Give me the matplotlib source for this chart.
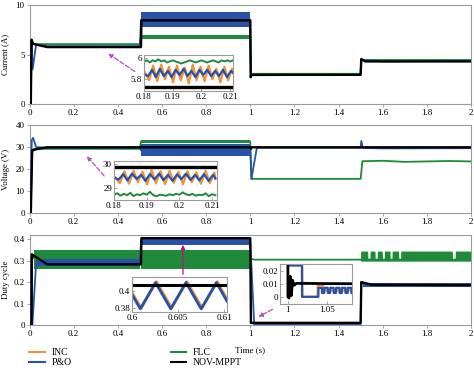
import matplotlib
matplotlib.use("Agg")
import matplotlib.pyplot as plt
from matplotlib.lines import Line2D
from matplotlib.patches import FancyArrowPatch

plt.rcParams["font.family"] = ["Liberation Serif", "DejaVu Serif"]

# ---- data ----
TIME_TICKS = [0, 0.2, 0.4, 0.6, 0.8, 1.0, 1.2, 1.4, 1.6, 1.8, 2.0]
TIME_LABELS = ["0", "0.2", "0.4", "0.6", "0.8", "1", "1.2", "1.4", "1.6", "1.8", "2"]
SERIES = ["INC", "P&O", "FLC", "NOV-MPPT"]

# current (A)
CUR_NOV_T = [0, 0.006, 0.009, 0.015, 0.03, 0.08, 0.505, 0.507, 1.0, 1.002, 1.005, 1.5, 1.503, 1.52, 2.0]
CUR_NOV = [0, 0, 6.5, 6.1, 6.0, 5.75, 5.75, 8.45, 8.45, 2.7, 2.95, 2.95, 4.55, 4.3, 4.3]
CUR_PO_T = [0, 0.006, 0.009, 0.014, 0.03, 0.08, 0.5, 0.505, 1.0, 1.003, 1.5, 1.503, 1.6, 2.0]
CUR_PO = [0, 0, 6.4, 3.5, 6.0, 5.85, 5.85, 8.5, 8.5, 2.9, 2.95, 4.45, 4.3, 4.35]
CUR_PO_BAND = ([0.505], [1.0], [7.8], [9.3])
CUR_FLC_T = [0, 0.006, 0.009, 0.02, 0.5, 0.505, 1.0, 1.003, 1.5, 1.503, 2.0]
CUR_FLC = [0, 0, 6.4, 6.05, 6.05, 6.75, 6.75, 3.05, 3.05, 4.45, 4.45]
CUR_FLC_BAND = ([0.505], [1.0], [6.55], [6.95])

# voltage (V)
VOL_NOV_T = [0, 0.006, 0.012, 0.03, 0.08, 1.0, 1.003, 1.008, 2.0]
VOL_NOV = [0, 0, 28.5, 29.0, 29.9, 29.9, 29.2, 29.9, 29.9]
VOL_PO_T = [0, 0.006, 0.01, 0.016, 0.03, 0.08, 0.5, 0.505, 1.0, 1.005, 1.03, 1.5, 1.503, 1.51, 1.6, 2.0]
VOL_PO = [0, 0, 33.0, 34.2, 30.0, 29.7, 29.7, 28.5, 28.5, 15.5, 29.7, 29.7, 32.8, 29.6, 29.4, 29.5]
VOL_PO_BAND = ([0.505], [1.0], [25.9], [31.3])
VOL_FLC_T = [0, 0.006, 0.01, 0.02, 0.5, 0.505, 1.0, 1.006, 1.5, 1.508, 1.6, 1.7, 1.8, 1.9, 2.0]
VOL_FLC = [0, 0, 27.0, 29.2, 29.2, 32.5, 32.5, 15.6, 15.6, 23.6, 23.8, 23.3, 23.5, 23.7, 23.5]
VOL_FLC_BAND = ([0.505], [1.0], [31.8], [33.2])

# duty cycle
DUT_NOV_T = [0, 0.009, 0.01, 0.08, 0.505, 0.507, 1.0, 1.003, 1.5, 1.503, 1.55, 2.0]
DUT_NOV = [0, 0, 0.33, 0.283, 0.283, 0.405, 0.405, 0.01, 0.01, 0.2, 0.188, 0.186]
DUT_PO_T = [0, 0.008, 0.01, 0.013, 0.03, 0.5, 0.505, 1.0, 1.018, 1.04, 1.5, 1.503, 1.55, 2.0]
DUT_PO = [0, 0, 0.32, 0.0, 0.29, 0.29, 0.39, 0.39, 0.0, 0.004, 0.004, 0.2, 0.185, 0.185]
DUT_PO_BAND = ([0.03, 0.505, 1.04, 1.51], [0.5, 1.0, 1.5, 2.0],
               [0.275, 0.375, 0.0, 0.176], [0.31, 0.41, 0.008, 0.195])
DUT_FLC_T = [0, 0.008, 0.012, 0.02, 1.0, 1.02, 1.5, 2.0]
DUT_FLC = [0, 0, 0.33, 0.31, 0.31, 0.305, 0.305, 0.305]
DUT_FLC_BAND = ([0.02, 0.505], [0.5, 1.0], [0.26, 0.262], [0.35, 0.35])
DUT_FLC_TOP_T = [1.5, 1.532, 1.533, 1.542, 1.543, 1.565, 1.566, 1.575, 1.576, 1.598, 1.599, 1.607, 1.608,
                 1.633, 1.634, 1.642, 1.643, 1.672, 1.673, 1.681, 1.682, 1.915, 1.916, 1.928, 1.929, 2.0]
DUT_FLC_TOP = [0.345, 0.345, 0.31, 0.31, 0.345, 0.345, 0.31, 0.31, 0.345, 0.345, 0.31, 0.31, 0.345,
               0.345, 0.31, 0.31, 0.345, 0.345, 0.31, 0.31, 0.345, 0.345, 0.31, 0.31, 0.345, 0.345]
DUT_FLC_BOTTOM = 0.298

# zoom windows 0.18-0.21 s (current and voltage)
OSC_PO_T = [0.1800, 0.1814, 0.1828, 0.1841, 0.1855, 0.1869, 0.1883, 0.1896, 0.1910, 0.1924, 0.1938, 0.1951,
            0.1965, 0.1979, 0.1993, 0.2006, 0.2020, 0.2034, 0.2048, 0.2061, 0.2075, 0.2089, 0.2103, 0.2110]
OSC_INC_T = [0.1800, 0.1818, 0.1832, 0.1846, 0.1860, 0.1873, 0.1887, 0.1901, 0.1915, 0.1928, 0.1942, 0.1956,
             0.1970, 0.1983, 0.1997, 0.2011, 0.2025, 0.2038, 0.2052, 0.2066, 0.2080, 0.2093, 0.2107, 0.2110]
NOISE_T = [0.180, 0.181, 0.182, 0.183, 0.184, 0.185, 0.186, 0.187, 0.188, 0.189, 0.190, 0.191, 0.192, 0.193,
           0.194, 0.195, 0.196, 0.197, 0.198, 0.199, 0.200, 0.201, 0.202, 0.203, 0.204, 0.205, 0.206, 0.207,
           0.208, 0.209, 0.210, 0.211]
INS1_PO = [5.85, 5.83, 5.89, 5.82, 5.90, 5.83, 5.88, 5.82, 5.89, 5.84, 5.90, 5.83, 5.88, 5.82, 5.89, 5.84,
           5.89, 5.83, 5.88, 5.83, 5.89, 5.82, 5.88, 5.86]
INS1_INC = [5.88, 5.79, 5.93, 5.78, 5.94, 5.80, 5.92, 5.77, 5.93, 5.79, 5.91, 5.76, 5.94, 5.79, 5.92, 5.78,
            5.93, 5.80, 5.90, 5.77, 5.92, 5.79, 5.90, 5.86]
INS1_FLC = [5.97, 5.98, 5.96, 5.98, 5.97, 5.99, 5.97, 5.98, 5.96, 5.97, 5.98, 5.97, 5.96, 5.95, 5.96, 5.97,
            5.98, 5.97, 5.96, 5.97, 5.98, 5.97, 5.96, 5.97, 5.98, 5.97, 5.96, 5.98, 5.97, 5.98, 5.97, 5.98]
INS1_NOV = 5.73
INS2_PO = [29.45, 29.35, 29.58, 29.32, 29.60, 29.38, 29.55, 29.30, 29.58, 29.36, 29.60, 29.33, 29.55, 29.30,
           29.57, 29.37, 29.60, 29.34, 29.55, 29.32, 29.58, 29.30, 29.55, 29.40]
INS2_INC = [29.50, 29.20, 29.70, 29.18, 29.72, 29.25, 29.68, 29.15, 29.75, 29.20, 29.70, 29.17, 29.72, 29.22,
            29.68, 29.16, 29.70, 29.24, 29.66, 29.18, 29.72, 29.20, 29.65, 29.40]
INS2_FLC = [28.72, 28.78, 28.68, 28.76, 28.70, 28.80, 28.66, 28.74, 28.70, 28.78, 28.72, 28.84, 28.70, 28.66,
            28.72, 28.70, 28.68, 28.74, 28.70, 28.76, 28.72, 28.82, 28.74, 28.70, 28.76, 28.68, 28.72, 28.70,
            28.78, 28.66, 28.74, 28.70]
INS2_NOV = 29.86

# zoom window 0.600-0.610 s (duty)
INS3_PO_T = [0.6, 0.6009, 0.60255, 0.6042, 0.60585, 0.6075, 0.60915, 0.6103]
INS3_PO = [0.396, 0.379, 0.410, 0.379, 0.410, 0.379, 0.410, 0.388]
INS3_INC_T = [0.6, 0.6010, 0.60265, 0.6043, 0.60595, 0.6076, 0.60925, 0.6103]
INS3_INC = [0.398, 0.380, 0.411, 0.380, 0.411, 0.380, 0.411, 0.390]
INS3_NOV = 0.407

# zoom window 0.99-1.08 s (duty)
INS4_NOV_T = [0.99, 0.9999, 1.0001, 1.0015, 1.003, 1.0045, 1.006, 1.008, 1.011, 1.082]
INS4_NOV = [0.405, 0.405, 0.0, -0.001, 0.016, 0.001, 0.013, 0.009, 0.0105, 0.0102]
INS4_PO_T = [0.99, 1.0, 1.0005, 1.018, 1.0182, 1.039, 1.0392, 1.0435, 1.0437, 1.0465, 1.0467, 1.051, 1.0512,
             1.054, 1.0542, 1.0585, 1.0587, 1.0615, 1.0617, 1.066, 1.0662, 1.069, 1.0692, 1.0735, 1.0737,
             1.0765, 1.0767, 1.081, 1.0812, 1.082]
INS4_PO = [0.39, 0.39, 0.0245, 0.0245, 0.0, 0.0, 0.007, 0.007, 0.003, 0.003, 0.007, 0.007, 0.003, 0.003,
           0.007, 0.007, 0.003, 0.003, 0.007, 0.007, 0.003, 0.003, 0.007, 0.007, 0.003, 0.003, 0.007, 0.007,
           0.003, 0.003]
INS4_INC_T = [0.99, 1.0, 1.0005, 1.0185, 1.0187, 1.038, 1.0383, 1.045, 1.0453, 1.082]
INS4_INC = [0.39, 0.39, 0.0245, 0.0245, 0.0, 0.0, 0.009, 0.009, 0.005, 0.005]

C_INC = "#f0923a"
C_PO = "#2752a8"
C_FLC = "#1f8a3a"
C_NOV = "#000000"
GREY = "#9a9a9a"
W, H = 474, 371


def box(x0, y0, x1, y1):
    # pixel box (top-left origin) -> figure fraction rect
    return [x0 / W, 1 - y1 / H, (x1 - x0) / W, (y1 - y0) / H]


def px(x, y):
    return (x / W, 1 - y / H)


def bands(ax, spec, color, z):
    for a, b, lo, hi in zip(*spec):
        ax.fill_between([a, b], [lo, lo], [hi, hi], color=color, lw=0, zorder=z)


def style(ax, size=6.5, direction="out"):
    for s in ax.spines.values():
        s.set_color(GREY)
        s.set_linewidth(0.8)
    ax.tick_params(labelsize=size, length=2, width=0.6, color=GREY, direction=direction, pad=1.5)


fig = plt.figure(figsize=(4.74, 3.71), dpi=100)

ax1 = fig.add_axes(box(29.5, 5, 471, 104))
ax2 = fig.add_axes(box(29.5, 125, 471, 213.3))
ax3 = fig.add_axes(box(29.5, 235, 471, 325))

# current
bands(ax1, CUR_FLC_BAND, C_FLC, 2)
ax1.plot(CUR_FLC_T, CUR_FLC, color=C_FLC, lw=1.3, zorder=2)
bands(ax1, CUR_PO_BAND, C_PO, 3)
ax1.plot(CUR_PO_T, CUR_PO, color=C_PO, lw=1.3, zorder=3)
ax1.plot(CUR_NOV_T, CUR_NOV, color=C_NOV, lw=1.7, zorder=4)
ax1.set_ylim(0, 10)
ax1.set_yticks([0, 5, 10])
ax1.set_yticklabels(["0", "5", "10"])
ax1.set_ylabel("Current (A)", fontsize=6.3)

# voltage
bands(ax2, VOL_FLC_BAND, C_FLC, 2)
ax2.plot(VOL_FLC_T, VOL_FLC, color=C_FLC, lw=1.3, zorder=2)
bands(ax2, VOL_PO_BAND, C_PO, 3)
ax2.plot(VOL_PO_T, VOL_PO, color=C_PO, lw=1.3, zorder=3)
ax2.plot(VOL_NOV_T, VOL_NOV, color=C_NOV, lw=1.7, zorder=4)
ax2.set_ylim(0, 40)
ax2.set_yticks([0, 10, 20, 30, 40])
ax2.set_yticklabels(["0", "10", "20", "30", "40"])
ax2.set_ylabel("Voltage (V)", fontsize=6.3)

# duty cycle
bands(ax3, DUT_FLC_BAND, C_FLC, 2)
ax3.fill_between(DUT_FLC_TOP_T, DUT_FLC_BOTTOM, DUT_FLC_TOP, color=C_FLC, lw=0, zorder=2)
ax3.plot(DUT_FLC_T, DUT_FLC, color=C_FLC, lw=1.3, zorder=2)
bands(ax3, DUT_PO_BAND, C_PO, 3)
ax3.plot(DUT_PO_T, DUT_PO, color=C_PO, lw=1.3, zorder=3)
ax3.plot(DUT_NOV_T, DUT_NOV, color=C_NOV, lw=1.7, zorder=4)
ax3.set_ylim(0, 0.42)
ax3.set_yticks([0, 0.1, 0.2, 0.3, 0.4])
ax3.set_yticklabels(["0", "0.1", "0.2", "0.3", "0.4"])
ax3.set_ylabel("Duty cycle", fontsize=6.3)
ax3.set_xlabel("Time (s)", fontsize=6.5)
ax3.xaxis.set_label_coords(0.5, -0.235)

for ax in (ax1, ax2, ax3):
    ax.set_xlim(0, 2)
    ax.set_xticks(TIME_TICKS)
    ax.set_xticklabels(TIME_LABELS)
    ax.yaxis.set_label_coords(-0.045, 0.5)
    style(ax)

# insets
in1 = fig.add_axes(box(144, 55, 233, 91), zorder=5)
in1.plot(NOISE_T, INS1_FLC, color=C_FLC, lw=1.4)
in1.plot(OSC_INC_T, INS1_INC, color=C_INC, lw=1.6)
in1.plot(OSC_PO_T, INS1_PO, color=C_PO, lw=1.6)
in1.plot([0.18, 0.211], [INS1_NOV, INS1_NOV], color=C_NOV, lw=2.4)
in1.set_xlim(0.18, 0.211)
in1.set_ylim(5.688, 6.031)
in1.set_xticks([0.18, 0.19, 0.2, 0.21])
in1.set_xticklabels(["0.18", "0.19", "0.2", "0.21"])
in1.set_yticks([5.8, 6.0])
in1.set_yticklabels(["5.8", "6"])

in2 = fig.add_axes(box(114, 161, 217, 200), zorder=5)
in2.plot(NOISE_T, INS2_FLC, color=C_FLC, lw=1.4)
in2.plot(OSC_INC_T, INS2_INC, color=C_INC, lw=1.6)
in2.plot(OSC_PO_T, INS2_PO, color=C_PO, lw=1.6)
in2.plot([0.18, 0.2115], [INS2_NOV, INS2_NOV], color=C_NOV, lw=2.4)
in2.set_xlim(0.18, 0.2115)
in2.set_ylim(28.5, 30.13)
in2.set_xticks([0.18, 0.19, 0.2, 0.21])
in2.set_xticklabels(["0.18", "0.19", "0.2", "0.21"])
in2.set_yticks([29, 30])
in2.set_yticklabels(["29", "30"])

in3 = fig.add_axes(box(132, 277, 227, 312), zorder=5)
in3.plot(INS3_INC_T, INS3_INC, color=C_INC, lw=2.0)
in3.plot(INS3_PO_T, INS3_PO, color=C_PO, lw=2.0)
in3.plot([0.6, 0.6103], [INS3_NOV, INS3_NOV], color=C_NOV, lw=2.2)
in3.set_xlim(0.6, 0.6103)
in3.set_ylim(0.3753, 0.4165)
in3.set_xticks([0.6, 0.605, 0.61])
in3.set_xticklabels(["0.6", "0.605", "0.61"])
in3.set_yticks([0.38, 0.4])
in3.set_yticklabels(["0.38", "0.4"])

in4 = fig.add_axes(box(280, 264, 352, 304), zorder=5)
in4.plot(INS4_INC_T, INS4_INC, color=C_INC, lw=1.6)
in4.plot(INS4_PO_T, INS4_PO, color=C_PO, lw=1.6)
in4.plot(INS4_NOV_T, INS4_NOV, color=C_NOV, lw=2.0)
in4.set_xlim(0.99, 1.082)
in4.set_ylim(-0.0056, 0.0256)
in4.set_xticks([1.0, 1.05])
in4.set_xticklabels(["1", "1.05"])
in4.set_yticks([0, 0.01, 0.02])
in4.set_yticklabels(["0", "0.01", "0.02"])

for ax in (in1, in2, in3, in4):
    style(ax, size=6.5, direction="in")

# pointer arrows
ARROWS = [((137, 73), (106, 52), "--", "#b050c0"),
          ((106, 178), (85, 154), "--", "#b050c0"),
          ((183, 277), (183, 242), "-", "#c0107f"),
          ((275, 308), (256, 318), "--", "#b050c0")]
for tail, head, ls, col in ARROWS:
    fig.add_artist(FancyArrowPatch(px(*tail), px(*head), transform=fig.transFigure,
                                   arrowstyle="-|>", mutation_scale=6, lw=0.9,
                                   linestyle=ls, color=col, zorder=6))

handles = [Line2D([], [], color=c, lw=1.5) for c in (C_INC, C_PO, C_FLC, C_NOV)]
fig.legend(handles, SERIES, ncol=2, loc="upper left", bbox_to_anchor=px(29, 348),
           frameon=False, fontsize=7, handlelength=1.6, handletextpad=0.7,
           columnspacing=10.2, labelspacing=0.15, borderaxespad=0, borderpad=0)

fig.savefig("out.png", dpi=100)
